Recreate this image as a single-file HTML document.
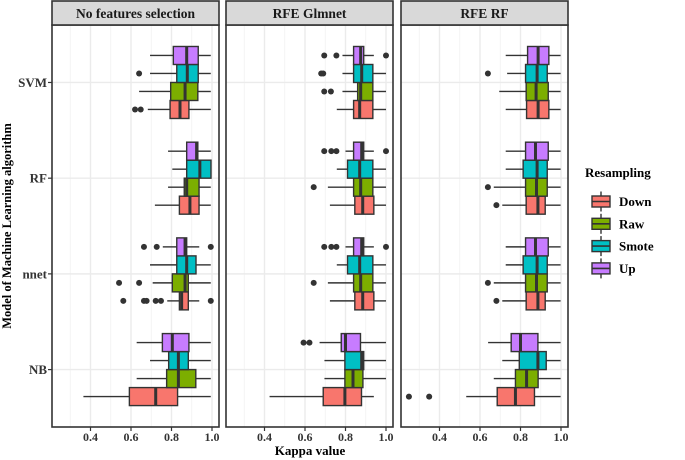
<!DOCTYPE html>
<html><head><meta charset="utf-8"><style>
body{margin:0;background:#fff;}
svg{display:block;font-family:"Liberation Serif",serif;}
</style></head><body>
<svg id="chart" width="685" height="460"></svg>
<script>
const panels = ["No features selection","RFE Glmnet","RFE RF"];
const categories = ["NB","nnet","RF","SVM"];
const series = ["Down","Raw","Smote","Up"];
const colors = ["#F8766D","#7CAE00","#00BFC4","#C77CFF"];
const xTicks = [0.4,0.6,0.8,1.0];
const xTickLabels = ["0.4","0.6","0.8","1.0"];
// stats: [lower whisker, q1, median, q3, upper whisker]
const panel1Stats = {
 NB:{Down:[0.365,0.592,0.722,0.83,0.994],Raw:[0.628,0.776,0.834,0.92,0.994],Smote:[0.694,0.786,0.834,0.883,0.994],Up:[0.628,0.755,0.804,0.886,0.994]},
 nnet:{Down:[0.779,0.839,0.85,0.883,0.937],Raw:[0.707,0.804,0.867,0.883,0.994],Smote:[0.694,0.826,0.875,0.921,0.994],Up:[0.757,0.826,0.867,0.875,0.937]},
 RF:{Down:[0.718,0.839,0.891,0.936,0.994],Raw:[0.783,0.863,0.875,0.936,0.994],Smote:[0.804,0.875,0.94,0.995,0.995],Up:[0.783,0.875,0.924,0.93,0.994]},
 SVM:{Down:[0.683,0.793,0.842,0.886,0.994],Raw:[0.64,0.796,0.867,0.93,0.994],Smote:[0.694,0.826,0.878,0.932,0.994],Up:[0.694,0.809,0.875,0.932,0.994]}
};
const panel1Outliers = {
 NB:{Down:[],Raw:[],Smote:[],Up:[]},
 nnet:{Down:[0.562,0.664,0.677,0.722,0.748,0.994],Raw:[0.541,0.64],Smote:[],Up:[0.664,0.727,0.994]},
 RF:{Down:[],Raw:[],Smote:[],Up:[]},
 SVM:{Down:[0.62,0.648],Raw:[],Smote:[0.64],Up:[]}
};
const panel2Stats = {
 NB:{Down:[0.425,0.69,0.797,0.879,0.94],Raw:[0.696,0.797,0.837,0.886,1.0],Smote:[0.696,0.797,0.88,0.89,1.0],Up:[0.672,0.779,0.8,0.874,1.0]},
 nnet:{Down:[0.723,0.846,0.885,0.94,1.0],Raw:[0.713,0.84,0.875,0.935,1.0],Smote:[0.757,0.81,0.87,0.935,1.0],Up:[0.8,0.84,0.88,0.89,0.94]},
 RF:{Down:[0.723,0.846,0.885,0.94,1.0],Raw:[0.713,0.84,0.875,0.935,1.0],Smote:[0.757,0.81,0.87,0.935,1.0],Up:[0.8,0.84,0.88,0.89,0.94]},
 SVM:{Down:[0.757,0.84,0.87,0.935,1.0],Raw:[0.785,0.86,0.875,0.935,1.0],Smote:[0.785,0.84,0.88,0.935,1.0],Up:[0.785,0.84,0.875,0.89,0.94]}
};
const panel2Outliers = {
 NB:{Down:[],Raw:[],Smote:[],Up:[0.593,0.622]},
 nnet:{Down:[],Raw:[0.643],Smote:[],Up:[0.695,0.73,0.755,1.0]},
 RF:{Down:[],Raw:[0.643],Smote:[],Up:[0.695,0.73,0.755,1.0]},
 SVM:{Down:[],Raw:[0.695,0.728],Smote:[0.68,0.69],Up:[0.695,0.755,1.0]}
};
const panel3Stats = {
 NB:{Down:[0.532,0.685,0.775,0.869,0.998],Raw:[0.668,0.775,0.83,0.887,0.998],Smote:[0.71,0.794,0.886,0.927,0.998],Up:[0.64,0.754,0.8,0.886,0.998]},
 nnet:{Down:[0.71,0.828,0.886,0.922,0.998],Raw:[0.668,0.825,0.879,0.932,0.998],Smote:[0.727,0.813,0.882,0.932,0.998],Up:[0.727,0.825,0.874,0.937,0.998]},
 RF:{Down:[0.71,0.828,0.886,0.922,0.998],Raw:[0.668,0.825,0.879,0.932,0.998],Smote:[0.727,0.813,0.882,0.932,0.998],Up:[0.727,0.825,0.874,0.937,0.998]},
 SVM:{Down:[0.727,0.83,0.887,0.94,0.998],Raw:[0.695,0.828,0.877,0.937,0.998],Smote:[0.734,0.825,0.882,0.932,0.998],Up:[0.727,0.835,0.887,0.94,0.998]}
};
const panel3Outliers = {
 NB:{Down:[0.249,0.349],Raw:[],Smote:[],Up:[]},
 nnet:{Down:[0.681],Raw:[0.639],Smote:[],Up:[]},
 RF:{Down:[0.681],Raw:[0.639],Smote:[],Up:[]},
 SVM:{Down:[],Raw:[],Smote:[0.639],Up:[]}
};
const allStats=[panel1Stats,panel2Stats,panel3Stats];
const allOutliers=[panel1Outliers,panel2Outliers,panel3Outliers];

const NS="http://www.w3.org/2000/svg";
const svg=document.getElementById('chart');
function mk(tag,attrs,parent){const e=document.createElementNS(NS,tag);for(const k in attrs)e.setAttribute(k,attrs[k]);(parent||svg).appendChild(e);return e;}
const panelLefts=[52,226,401], panelW=167, plotTop=25, plotBottom=427;
function xScale(p,v){return panelLefts[p]+38.5+(v-0.4)*202.5;}
function yScale(i){return plotBottom-(i+1-0.4)*95.7;}
const offsets=[27,9,-9,-27];

panels.forEach((pname,p)=>{
  const g=mk('g',{});
  
  
  const L=panelLefts[p];
  mk('rect',{x:L,y:plotTop,width:panelW,height:plotBottom-plotTop,fill:'#fff'},g);
  [0.3,0.5,0.7,0.9].forEach(v=>mk('line',{x1:xScale(p,v),x2:xScale(p,v),y1:plotTop,y2:plotBottom,stroke:'#f2f2f2','stroke-width':0.8},g));
  xTicks.forEach(v=>mk('line',{x1:xScale(p,v),x2:xScale(p,v),y1:plotTop,y2:plotBottom,stroke:'#ebebeb','stroke-width':1.4},g));
  categories.forEach((c,i)=>mk('line',{x1:L,x2:L+panelW,y1:yScale(i),y2:yScale(i),stroke:'#ebebeb','stroke-width':1.4},g));
  categories.forEach((c,i)=>{
    series.forEach((s,j)=>{
      const st=allStats[p][c][s], yc=yScale(i)+offsets[j];
      const b=mk('g',{},g);
      
      
      mk('line',{x1:xScale(p,st[0]),x2:xScale(p,st[1]),y1:yc,y2:yc,stroke:'#333','stroke-width':1.4},b);
      mk('line',{x1:xScale(p,st[3]),x2:xScale(p,st[4]),y1:yc,y2:yc,stroke:'#333','stroke-width':1.4},b);
      mk('rect',{x:xScale(p,st[1]),y:yc-9,width:Math.max(0.5,xScale(p,st[3])-xScale(p,st[1])),height:18,fill:colors[j],stroke:'#333','stroke-width':1.4},b);
      mk('line',{x1:xScale(p,st[2]),x2:xScale(p,st[2]),y1:yc-9,y2:yc+9,stroke:'#333','stroke-width':3},b);
      allOutliers[p][c][s].forEach(o=>{
        const d=mk('circle',{cx:xScale(p,o),cy:yc,r:3,fill:'#333'},b);
        
        
      });
    });
  });
  mk('rect',{x:L,y:plotTop,width:panelW,height:plotBottom-plotTop,fill:'none',stroke:'#333','stroke-width':1.6},g);
  const sr=mk('rect',{x:L,y:1,width:panelW,height:24,fill:'#d9d9d9',stroke:'#333','stroke-width':1.6},g);
  
  
  const stx=mk('text',{x:L+panelW/2,y:18,'text-anchor':'middle','font-size':13.5,'font-weight':'bold',fill:'#1a1a1a'},g);
  stx.textContent=pname;
  
  
  xTicks.forEach((v,k)=>{
    mk('line',{x1:xScale(p,v),x2:xScale(p,v),y1:plotBottom,y2:plotBottom+4,stroke:'#333','stroke-width':1.2},g);
    const t=mk('text',{x:xScale(p,v),y:plotBottom+14,'text-anchor':'middle','font-size':12,'font-weight':'bold',fill:'#333'},g);
    t.textContent=xTickLabels[k];
    
    
  });
});
categories.forEach((c,i)=>{
  mk('line',{x1:48,x2:52,y1:yScale(i),y2:yScale(i),stroke:'#333','stroke-width':1.2});
  const t=mk('text',{x:47,y:yScale(i)+4.5,'text-anchor':'end','font-size':13,'font-weight':'bold',fill:'#333'});
  t.textContent=c;
  
  
});
const yt=mk('text',{x:0,y:0,transform:'translate(11,226) rotate(-90)','text-anchor':'middle','font-size':12.5,'font-weight':'bold',fill:'#000'});
yt.textContent='Model of Machine Learning algorithm';


const xt=mk('text',{x:310,y:455,'text-anchor':'middle','font-size':13,'font-weight':'bold',fill:'#000'});
xt.textContent='Kappa value';


const lg=mk('g',{});


const lt=mk('text',{x:585,y:177,'font-size':13,'font-weight':'bold',fill:'#000'},lg);
lt.textContent='Resampling';
series.forEach((s,j)=>{
  const yc=201.5+j*22.3;
  const e=mk('g',{},lg);
  
  
  mk('line',{x1:601,x2:601,y1:yc-10,y2:yc+10,stroke:'#333','stroke-width':1.4},e);
  mk('rect',{x:592,y:yc-5.5,width:18,height:11,fill:colors[j],stroke:'#333','stroke-width':1.4},e);
  mk('line',{x1:592,x2:610,y1:yc,y2:yc,stroke:'#333','stroke-width':1.6},e);
  const t=mk('text',{x:619,y:yc+4.5,'font-size':13,'font-weight':'bold',fill:'#000'},e);
  t.textContent=s;
});
</script>
</body></html>
